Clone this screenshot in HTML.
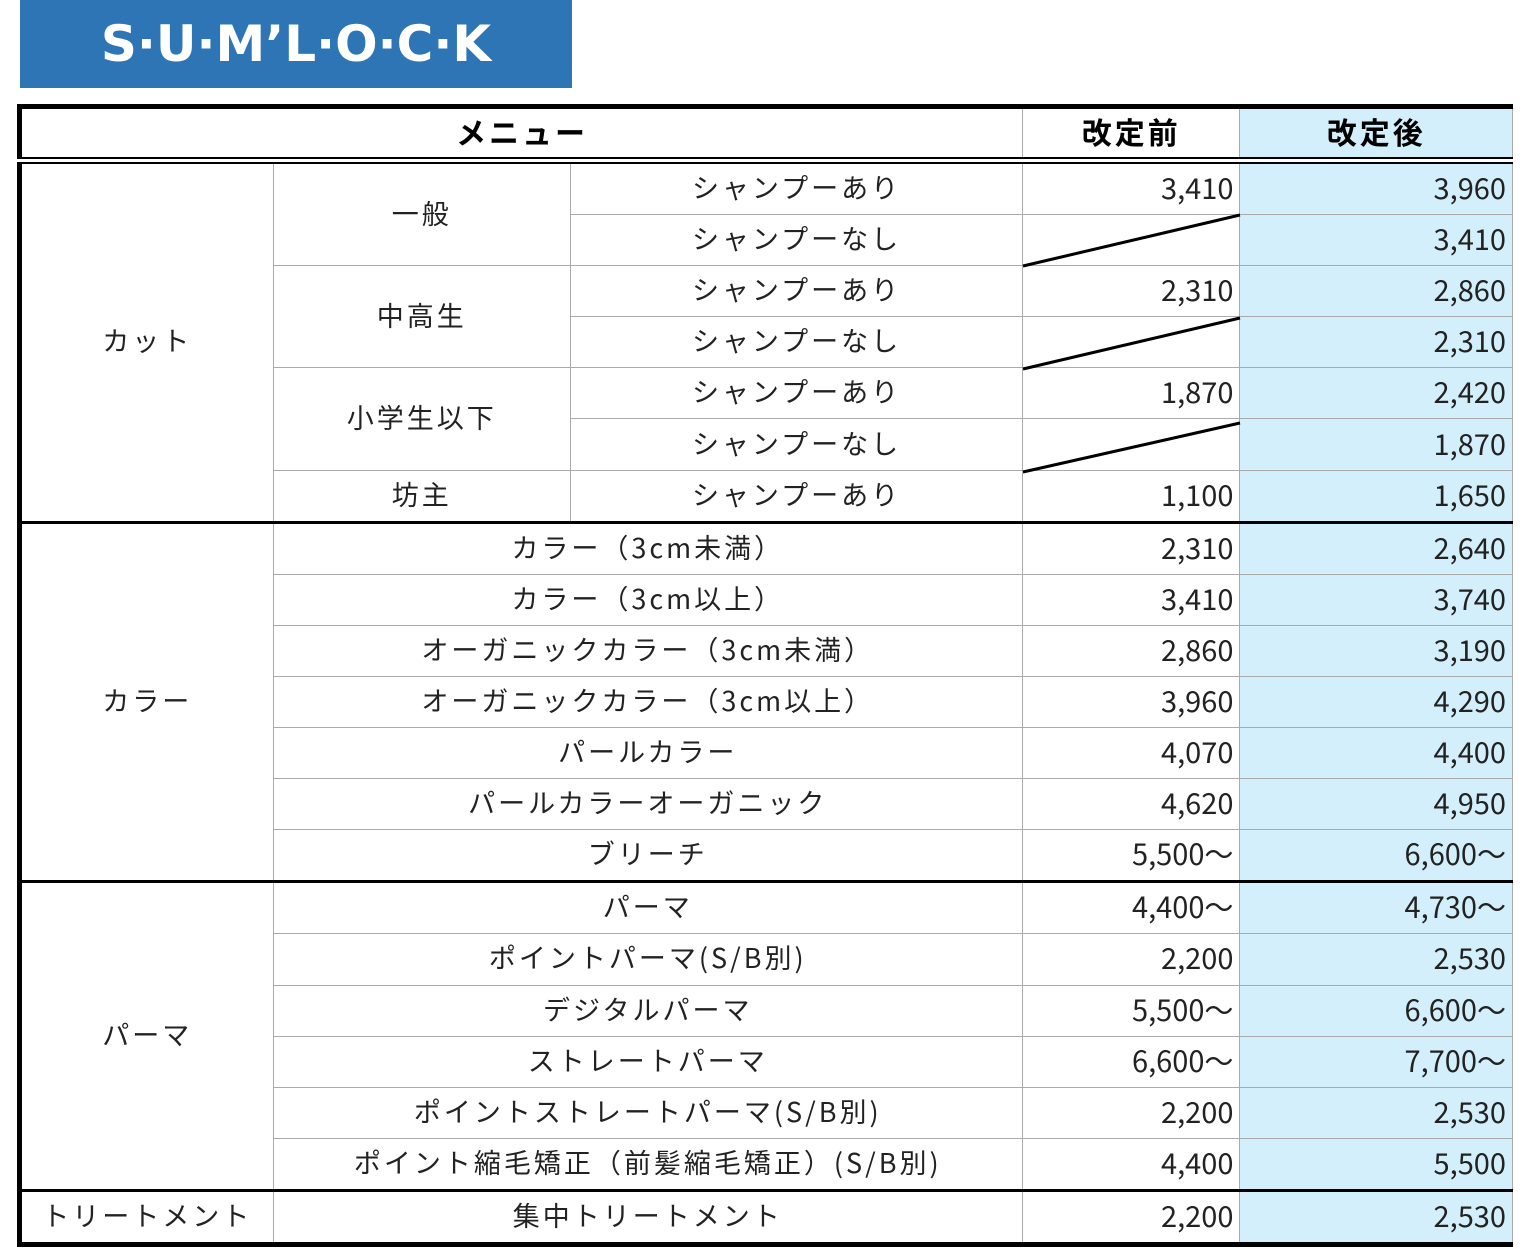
<!DOCTYPE html>
<html><head><meta charset="utf-8"><style>
body{margin:0;width:1536px;height:1249px;background:#fff;position:relative;overflow:hidden;font-family:"Noto Sans CJK JP",sans-serif;}
.title{position:absolute;left:20px;top:0;width:552px;height:88px;background:#2e75b6;color:#fff;font:bold 50px "DejaVu Sans","Liberation Sans",sans-serif;line-height:88px;text-align:center;letter-spacing:0px;}
table{position:absolute;left:17px;top:104px;border-collapse:collapse;table-layout:fixed;width:1496px;border-top:5px solid #000;border-left:5px solid #000;border-bottom:5px solid #000;}
td{border:1px solid #aaa;height:46.1px;padding:0 0 4px 0;text-align:center;font-size:27px;letter-spacing:3px;color:#222;white-space:nowrap;font-family:"Noto Sans CJK JP",sans-serif;font-weight:normal;line-height:28px;overflow:hidden;}
td.n{text-align:right;padding-right:6px;font-size:29px;letter-spacing:0;}
td.b{background:#d3effb;}
tr.h td{height:44px;font-weight:bold;font-size:30px;border-bottom:7px double #000;color:#000;}
tr.g td{border-top:3px solid #000;}
svg{position:absolute;left:0;top:0;}
</style></head><body>
<div class="title">S·U·M’L·O·C·K</div>
<table>
<colgroup><col style="width:253px"><col style="width:297px"><col style="width:451px"><col style="width:217px"><col style="width:272px"></colgroup>
<tr class="h"><td colspan="3">メニュー</td><td>改定前</td><td class="b">改定後</td></tr>
<tr><td rowspan="7">カット</td><td rowspan="2">一般</td><td>シャンプーあり</td><td class="n">3,410</td><td class="n b">3,960</td></tr>
<tr><td>シャンプーなし</td><td class="n"></td><td class="n b">3,410</td></tr>
<tr><td rowspan="2">中高生</td><td>シャンプーあり</td><td class="n">2,310</td><td class="n b">2,860</td></tr>
<tr><td>シャンプーなし</td><td class="n"></td><td class="n b">2,310</td></tr>
<tr><td rowspan="2">小学生以下</td><td>シャンプーあり</td><td class="n">1,870</td><td class="n b">2,420</td></tr>
<tr><td>シャンプーなし</td><td class="n"></td><td class="n b">1,870</td></tr>
<tr><td>坊主</td><td>シャンプーあり</td><td class="n">1,100</td><td class="n b">1,650</td></tr>
<tr class="g"><td rowspan="7">カラー</td><td colspan="2">カラー（3cm未満）</td><td class="n">2,310</td><td class="n b">2,640</td></tr>
<tr><td colspan="2">カラー（3cm以上）</td><td class="n">3,410</td><td class="n b">3,740</td></tr>
<tr><td colspan="2">オーガニックカラー（3cm未満）</td><td class="n">2,860</td><td class="n b">3,190</td></tr>
<tr><td colspan="2">オーガニックカラー（3cm以上）</td><td class="n">3,960</td><td class="n b">4,290</td></tr>
<tr><td colspan="2">パールカラー</td><td class="n">4,070</td><td class="n b">4,400</td></tr>
<tr><td colspan="2">パールカラーオーガニック</td><td class="n">4,620</td><td class="n b">4,950</td></tr>
<tr><td colspan="2">ブリーチ</td><td class="n">5,500～</td><td class="n b">6,600～</td></tr>
<tr class="g"><td rowspan="6">パーマ</td><td colspan="2">パーマ</td><td class="n">4,400～</td><td class="n b">4,730～</td></tr>
<tr><td colspan="2">ポイントパーマ(S/B別)</td><td class="n">2,200</td><td class="n b">2,530</td></tr>
<tr><td colspan="2">デジタルパーマ</td><td class="n">5,500～</td><td class="n b">6,600～</td></tr>
<tr><td colspan="2">ストレートパーマ</td><td class="n">6,600～</td><td class="n b">7,700～</td></tr>
<tr><td colspan="2">ポイントストレートパーマ(S/B別)</td><td class="n">2,200</td><td class="n b">2,530</td></tr>
<tr><td colspan="2">ポイント縮毛矯正（前髪縮毛矯正）(S/B別)</td><td class="n">4,400</td><td class="n b">5,500</td></tr>
<tr class="g"><td>トリートメント</td><td colspan="2">集中トリートメント</td><td class="n">2,200</td><td class="n b">2,530</td></tr>
</table>
<svg width="1536" height="1249"><g stroke="#000" stroke-width="3">
<line x1="1023" y1="266" x2="1240" y2="215"/>
<line x1="1023" y1="369" x2="1240" y2="318"/>
<line x1="1023" y1="472" x2="1240" y2="423"/>
</g></svg>
</body></html>
